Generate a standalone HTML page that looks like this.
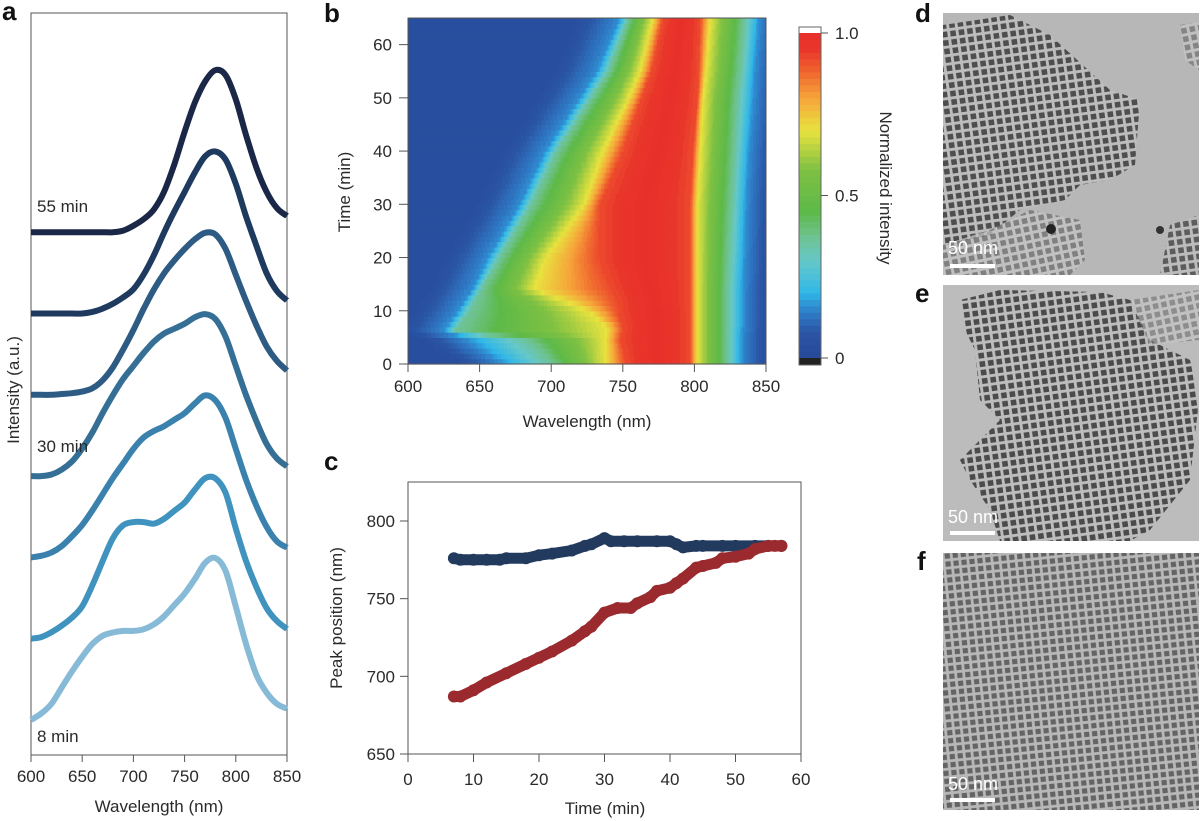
<!DOCTYPE html>
<html><head><meta charset="utf-8">
<style>
html,body{margin:0;padding:0;background:#fff;}
svg{display:block;font-family:"Liberation Sans",sans-serif;}
.t{font-size:17px;fill:#2a2a2a;}
.pl{font-size:26px;font-weight:bold;fill:#111;}
</style></head>
<body>
<svg id="fig" width="1200" height="821" viewBox="0 0 1200 821" xmlns="http://www.w3.org/2000/svg">
<defs>
<pattern id="cubes" width="8.5" height="8.5" patternUnits="userSpaceOnUse" patternTransform="rotate(-8)">
<rect width="8.5" height="8.5" fill="#bdbdbd"/>
<rect x="1.4" y="1.4" width="5.6" height="5.6" fill="#454545"/>
</pattern>
<pattern id="cubes2" width="8.5" height="8.5" patternUnits="userSpaceOnUse" patternTransform="rotate(-12)">
<rect width="8.5" height="8.5" fill="#c4c4c4"/>
<rect x="1.5" y="1.5" width="5.5" height="5.5" fill="#6e6e6e"/>
</pattern>
<pattern id="cubes3" width="8" height="8" patternUnits="userSpaceOnUse" patternTransform="rotate(-6)">
<rect width="8" height="8" fill="#c2c2c2"/>
<rect x="1.4" y="1.4" width="5.2" height="5.2" fill="#626262"/>
</pattern>
</defs>

<text class="pl" x="2" y="20">a</text>
<text class="pl" x="324" y="22">b</text>
<text class="pl" x="324" y="470">c</text>
<text class="pl" x="915" y="22">d</text>
<text class="pl" x="915" y="302">e</text>
<text class="pl" x="917" y="570">f</text>

<g id="pa"></g>
<g id="pb"></g>
<g id="pc"></g>

<g>
<rect x="943" y="13" width="256" height="262" fill="#b7b7b7"/>
<polygon points="943,25 1010,15 1050,35 1110,90 1140,100 1135,165 1110,180 1080,185 1065,200 1020,210 990,235 943,245" fill="url(#cubes)" opacity="0.92"/>
<polygon points="943,245 990,230 1030,210 1080,220 1085,260 1070,275 943,275" fill="url(#cubes2)" opacity="0.75"/>
<polygon points="1170,225 1199,215 1199,275 1160,275" fill="url(#cubes)" opacity="0.8"/>
<polygon points="1180,25 1199,22 1199,70 1185,60" fill="url(#cubes2)" opacity="0.7"/>
<circle cx="1051" cy="229" r="5" fill="#222"/><circle cx="1160" cy="230" r="4" fill="#333"/>
<text x="948" y="254" font-size="18" fill="#fff">50 nm</text>
<rect x="950" y="264" width="45" height="4" fill="#fff"/>
</g>
<g>
<rect x="943" y="285" width="256" height="256" fill="#bcbcbc"/>
<polygon points="960,300 1000,290 1100,292 1130,300 1150,340 1190,360 1199,400 1190,480 1150,530 1130,541 1000,541 990,510 970,480 960,460 1000,420 980,400 975,350 965,330" fill="url(#cubes)" opacity="0.95"/>
<polygon points="1130,300 1199,290 1199,340 1150,345" fill="url(#cubes2)" opacity="0.6"/>
<text x="948" y="523" font-size="18" fill="#fff">50 nm</text>
<rect x="950" y="531" width="45" height="4" fill="#fff"/>
</g>
<g>
<rect x="943" y="553" width="256" height="257" fill="url(#cubes3)"/>
<rect x="943" y="553" width="256" height="257" fill="#777" opacity="0.12"/>
<text x="948" y="790" font-size="18" fill="#fff">50 nm</text>
<rect x="950" y="798" width="45" height="4" fill="#fff"/>
</g>
</svg>

<script>
const NS = "http://www.w3.org/2000/svg";
// ---------- Panel a data ----------
const wlA = [600,610,620,630,640,650,660,670,680,690,700,710,720,730,740,750,760,770,780,790,800,810,820,830,840,850];
const spec8  = [0,0.04,0.1,0.2,0.3,0.39,0.47,0.52,0.54,0.55,0.55,0.56,0.59,0.64,0.71,0.78,0.87,0.97,1.0,0.92,0.7,0.47,0.28,0.17,0.1,0.07];
const spec15 = [0,0.01,0.04,0.08,0.13,0.2,0.33,0.48,0.62,0.7,0.72,0.72,0.71,0.74,0.79,0.84,0.92,0.99,0.99,0.9,0.68,0.48,0.32,0.19,0.11,0.06];
const spec23 = [0,0.01,0.03,0.07,0.13,0.2,0.29,0.39,0.49,0.58,0.67,0.74,0.78,0.81,0.85,0.89,0.95,1.0,0.97,0.86,0.67,0.48,0.32,0.19,0.1,0.06];
const spec30 = [0,0,0.01,0.04,0.09,0.17,0.27,0.39,0.5,0.6,0.68,0.76,0.83,0.88,0.91,0.94,0.98,1.0,0.97,0.86,0.68,0.5,0.34,0.2,0.11,0.06];
const spec38 = [0,0,0,0.005,0.01,0.02,0.04,0.09,0.17,0.28,0.4,0.53,0.65,0.75,0.83,0.9,0.96,1.0,0.99,0.9,0.74,0.58,0.43,0.3,0.21,0.15];
const spec46 = [0,0,0,0,0,0,0.01,0.03,0.06,0.1,0.15,0.24,0.36,0.5,0.63,0.75,0.87,0.97,1.0,0.95,0.8,0.6,0.42,0.25,0.14,0.08];
const spec55 = [0,0,0,0,0,0,0,0,0,0.01,0.04,0.08,0.14,0.25,0.42,0.62,0.8,0.93,1.0,0.97,0.82,0.6,0.4,0.25,0.15,0.1];
const spectraA = [spec8,spec15,spec23,spec30,spec38,spec46,spec55];
const colorsA = ["#86bad7","#3f93be","#3a82ad","#366f95","#2d5b83","#1f3a5f","#1b2747"];
const xTicksA = [600,650,700,750,800,850];
const labelsA = [["8 min",0,22],["30 min",3,-24],["55 min",6,-20]];

const xa = w => 31 + (w-600)/250*256;
const baseA = i => 720 - i*81.3;
const hA = 162;

function el(tag, attrs, parent){const e=document.createElementNS(NS,tag);for(const k in attrs)e.setAttribute(k,attrs[k]);parent.appendChild(e);return e;}
function smooth(pts){
  let d='M'+pts[0][0].toFixed(1)+','+pts[0][1].toFixed(1);
  for(let i=0;i<pts.length-1;i++){
    const p0=pts[i-1]||pts[i],p1=pts[i],p2=pts[i+1],p3=pts[i+2]||p2;
    const c1=[p1[0]+(p2[0]-p0[0])/6,p1[1]+(p2[1]-p0[1])/6];
    const c2=[p2[0]-(p3[0]-p1[0])/6,p2[1]-(p3[1]-p1[1])/6];
    d+=' C'+c1.map(v=>v.toFixed(1)).join(',')+' '+c2.map(v=>v.toFixed(1)).join(',')+' '+p2.map(v=>v.toFixed(1)).join(',');
  }
  return d;
}

const pa = document.getElementById('pa');
{
  const fr = el('rect',{x:31,y:13,width:256,height:742,fill:'none',stroke:'#555','stroke-width':1},pa);
  
  
  spectraA.forEach((s,i)=>{
    const pts = s.map((v,j)=>[xa(wlA[j]), baseA(i)-v*hA]);
    const p = el('path',{d:smooth(pts),fill:'none',stroke:colorsA[i],'stroke-width':6,'stroke-linejoin':'round','stroke-linecap':'butt'},pa);
    
    
  });
  labelsA.forEach(l=>{
    const t = el('text',{x:37,y:baseA(l[1])+l[2],class:'t','font-size':17},pa);
    t.textContent=l[0];
    
    
  });
  xTicksA.forEach(v=>{
    const tk = el('line',{x1:xa(v),x2:xa(v),y1:755,y2:762,stroke:'#555'},pa);
    
    
    const t = el('text',{x:xa(v),y:782,class:'t','text-anchor':'middle'},pa);
    t.textContent=v;
    
    
  });
  const xt = el('text',{x:159,y:812,class:'t','text-anchor':'middle','font-size':18},pa);
  xt.textContent='Wavelength (nm)';
  
  
  const yt = el('text',{x:0,y:0,class:'t','text-anchor':'middle','font-size':18,transform:'translate(19,390) rotate(-90)'},pa);
  yt.textContent='Intensity (a.u.)';
  
  
}

// ---------- Panel b data ----------
const timesB = [0,3,5,6,7,10,13,14,20,30,40,50,55,65];
const L15 = [667,650,640,625,627,635,642,645,656,678,696,720,732,748];
const L35 = [700,690,680,632,635,643,649,651,664,686,704,728,740,754];
const L70 = [738,738,738,739,739,726,700,688,696,723,736,754,762,771];
const L92 = [752,750,748,750,750,747,745,742,733,734,750,763,770,778];
const R92 = [797,797,797,797,797,797,797,797,797,797,799,802,803,804];
const R70 = [802,802,802,802,802,802,802,802,802,802,804,806,808,811];
const R35 = [823,823,823,823,823,823,823,823,824,826,828,830,832,835];
const R15 = [833,833,833,833,834,834,834,834,835,836,838,841,842,845];
const xTicksB = [600,650,700,750,800,850];
const yTicksB = [0,10,20,30,40,50,60];
const cbTicks = [0,0.5,1.0];

const xb = w => 408 + (w-600)/250*358;
const yb = t => 364 - t*346/65;
const cmapStops = [[0,'#27489a'],[0.08,'#2a55a5'],[0.14,'#2f7cc6'],[0.2,'#2fb7e8'],[0.3,'#66c8c8'],[0.38,'#6ec28b'],[0.45,'#5db948'],[0.58,'#7fc143'],[0.7,'#e8e23f'],[0.8,'#f6a53a'],[0.88,'#f0662f'],[0.95,'#e9362b'],[1,'#e8302b']];
function hex(c){return [parseInt(c.slice(1,3),16),parseInt(c.slice(3,5),16),parseInt(c.slice(5,7),16)];}
function cmap(v){
  v=Math.max(0,Math.min(1,v));
  for(let i=1;i<cmapStops.length;i++){
    if(v<=cmapStops[i][0]){const a=cmapStops[i-1],b=cmapStops[i];const f=(v-a[0])/(b[0]-a[0]);const A=hex(a[1]),B=hex(b[1]);
      return 'rgb('+A.map((x,k)=>Math.round(x+(B[k]-x)*f)).join(',')+')';}
  }
  return cmapStops[cmapStops.length-1][1];
}
function interpT(arr,t){
  for(let i=1;i<timesB.length;i++){ if(t<=timesB[i]){const f=(t-timesB[i-1])/(timesB[i]-timesB[i-1]);return arr[i-1]+(arr[i]-arr[i-1])*f;} }
  return arr[arr.length-1];
}
function intensity(w,knots){
  if(w<=knots[0][0])return knots[0][1];
  for(let i=1;i<knots.length;i++){ if(w<=knots[i][0]){const a=knots[i-1],b=knots[i];return a[1]+(b[1]-a[1])*(w-a[0])/(b[0]-a[0]);} }
  return knots[knots.length-1][1];
}
const pb = document.getElementById('pb');
{
  const hm = el('g',{},pb);
  
  
  for(let t=0;t<65;t++){
    const tc=t+0.5;
    const l15=interpT(L15,tc),l35=interpT(L35,tc),l70=interpT(L70,tc),l92=interpT(L92,tc);
    const r92=interpT(R92,tc),r70=interpT(R70,tc),r35=interpT(R35,tc),r15=interpT(R15,tc);
    const knots=[[l15-30,0.04],[l15,0.16],[l35,0.36],[l70,0.7],[l92,0.92],[(l92+r92)/2,1],[r92,0.92],[r70,0.7],[r35,0.36],[r15,0.16],[r15+18,0.04]];
    let runStart=600, runCol=null;
    const y0=yb(t+1), h=yb(t)-yb(t+1)+0.6;
    for(let w=600; w<=850; w+=1){
      const c = w<850 ? cmap(Math.round(intensity(w+0.5,knots)*80)/80) : null;
      if(c!==runCol){
        if(runCol){const r=el('rect',{x:xb(runStart).toFixed(1),y:y0.toFixed(2),width:(xb(w)-xb(runStart)+0.5).toFixed(1),height:h.toFixed(2),fill:runCol},hm);
          
          }
        runStart=w; runCol=c;
      }
    }
  }
  const fr = el('rect',{x:408,y:yb(65),width:358,height:346,fill:'none',stroke:'#555'},pb);
  
  
  xTicksB.forEach(v=>{
    const tk=el('line',{x1:xb(v),x2:xb(v),y1:364,y2:372,stroke:'#555'},pb);
    
    
    const t=el('text',{x:xb(v),y:392,class:'t','text-anchor':'middle'},pb);t.textContent=v;
    
    
  });
  yTicksB.forEach(v=>{
    const tk=el('line',{x1:399,x2:408,y1:yb(v),y2:yb(v),stroke:'#555'},pb);
    
    
    const t=el('text',{x:392,y:yb(v)+6,class:'t','text-anchor':'end'},pb);t.textContent=v;
    
    
  });
  const xt=el('text',{x:587,y:427,class:'t','text-anchor':'middle','font-size':18},pb);xt.textContent='Wavelength (nm)';
  
  
  const yt=el('text',{x:0,y:0,class:'t','text-anchor':'middle','font-size':18,transform:'translate(350,192) rotate(-90)'},pb);yt.textContent='Time (min)';
  
  
  const cb=el('g',{},pb);
  
  
  const cy = v => 358 - v*325;
  for(let i=0;i<50;i++){
    const v0=i/50,v1=(i+1)/50;
    const r=el('rect',{x:799,y:cy(v1).toFixed(2),width:22,height:(cy(v0)-cy(v1)+0.4).toFixed(2),fill:cmap((v0+v1)/2)},cb);
    
    
  }
  el('rect',{x:799,y:358,width:22,height:7,fill:'#222'},cb);
  el('rect',{x:799,y:27,width:22,height:6,fill:'#fff'},cb);
  el('rect',{x:799,y:27,width:22,height:338,fill:'none',stroke:'#666'},cb);
  cbTicks.forEach(v=>{
    el('line',{x1:821,x2:828,y1:cy(v),y2:cy(v),stroke:'#555'},cb);
    const t=el('text',{x:835,y:cy(v)+6,class:'t'},cb);t.textContent=(v===0?'0':v.toFixed(1));
    
    
  });
  const ct=el('text',{x:0,y:0,class:'t','text-anchor':'middle','font-size':18,transform:'translate(880,188) rotate(90)'},cb);ct.textContent='Normalized intensity';
  
  
}

// ---------- Panel c data ----------
const timeBlue = [7,8,10,12,14,15,18,20,22,25,27,28,30,31,33,35,38,40,41,42,44,45,48,50,53,55,57];
const peakBlue = [776,775,775,775,775,776,776,778,779,781,784,785,789,787,787,787,787,787,785,783,784,784,784,784,784,784,784];
const timeRed = [7,8,10,12,15,18,20,22,25,27,28,30,32,34,35,37,38,40,41,42,44,45,47,48,50,52,53,55,56,57];
const peakRed = [687,687,691,696,702,708,712,716,723,729,732,741,744,744,747,751,755,757,760,763,770,771,773,776,777,779,782,784,784,784];
const xTicksC = [0,10,20,30,40,50,60];
const yTicksC = [650,700,750,800];

const xc = t => 408 + t*393/60;
const yc = v => 754 - (v-650)*233/150;
const pc = document.getElementById('pc');
{
  const fr=el('rect',{x:408,y:482,width:393,height:272,fill:'none',stroke:'#555'},pc);
  
  
  [[timeBlue,peakBlue,'#223a5e','blue-series'],[timeRed,peakRed,'#9a2a2e','red-series']].forEach(s=>{
    const g=el('g',{},pc);
    
    
    const d=s[0].map((t,i)=>(i?'L':'M')+xc(t).toFixed(1)+','+yc(s[1][i]).toFixed(1)).join(' ');
    const p=el('path',{d:d,fill:'none',stroke:s[2],'stroke-width':11,'stroke-linecap':'round','stroke-linejoin':'round'},g);
    
    
    s[0].forEach((t,i)=>{
      const c=el('circle',{cx:xc(t).toFixed(1),cy:yc(s[1][i]).toFixed(1),r:6,fill:s[2]},g);
      
      
    });
  });
  xTicksC.forEach(v=>{
    const tk=el('line',{x1:xc(v),x2:xc(v),y1:754,y2:762,stroke:'#555'},pc);
    
    
    const t=el('text',{x:xc(v),y:785,class:'t','text-anchor':'middle'},pc);t.textContent=v;
    
    
  });
  yTicksC.forEach(v=>{
    const tk=el('line',{x1:400,x2:408,y1:yc(v),y2:yc(v),stroke:'#555'},pc);
    
    
    const t=el('text',{x:395,y:yc(v)+6,class:'t','text-anchor':'end'},pc);t.textContent=v;
    
    
  });
  const xt=el('text',{x:605,y:814,class:'t','text-anchor':'middle','font-size':18},pc);xt.textContent='Time (min)';
  
  
  const yt=el('text',{x:0,y:0,class:'t','text-anchor':'middle','font-size':18,transform:'translate(342,618) rotate(-90)'},pc);yt.textContent='Peak position (nm)';
  
  
}
</script>
</body></html>
